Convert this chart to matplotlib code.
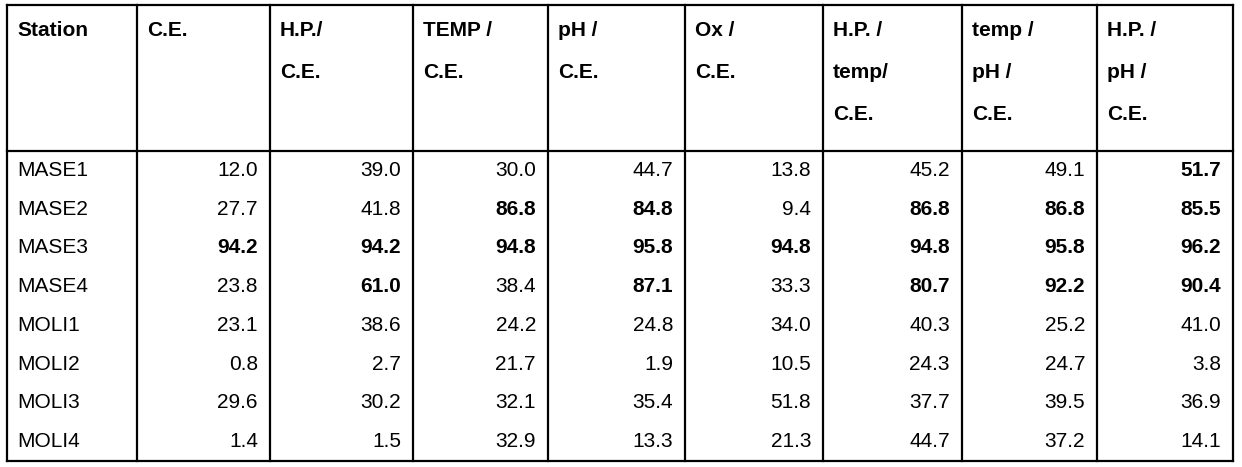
import matplotlib
matplotlib.use("Agg")
import matplotlib.pyplot as plt

headers = ["Station", "C.E.", "H.P./\nC.E.", "TEMP /\nC.E.", "pH /\nC.E.", "Ox /\nC.E.",
           "H.P. /\ntemp/\nC.E.", "temp /\npH /\nC.E.", "H.P. /\npH /\nC.E."]
stations = ["MASE1", "MASE2", "MASE3", "MASE4", "MOLI1", "MOLI2", "MOLI3", "MOLI4"]
ce = [12.0, 27.7, 94.2, 23.8, 23.1, 0.8, 29.6, 1.4]
hp_ce = [39.0, 41.8, 94.2, 61.0, 38.6, 2.7, 30.2, 1.5]
temp_ce = [30.0, 86.8, 94.8, 38.4, 24.2, 21.7, 32.1, 32.9]
ph_ce = [44.7, 84.8, 95.8, 87.1, 24.8, 1.9, 35.4, 13.3]
ox_ce = [13.8, 9.4, 94.8, 33.3, 34.0, 10.5, 51.8, 21.3]
hp_temp_ce = [45.2, 86.8, 94.8, 80.7, 40.3, 24.3, 37.7, 44.7]
temp_ph_ce = [49.1, 86.8, 95.8, 92.2, 25.2, 24.7, 39.5, 37.2]
hp_ph_ce = [51.7, 85.5, 96.2, 90.4, 41.0, 3.8, 36.9, 14.1]
bold = [
    [0, 0, 0, 0, 0, 0, 0, 1],
    [0, 0, 1, 1, 0, 1, 1, 1],
    [1, 1, 1, 1, 1, 1, 1, 1],
    [0, 1, 0, 1, 0, 1, 1, 1],
    [0]*8, [0]*8, [0]*8, [0]*8,
]
columns = [ce, hp_ce, temp_ce, ph_ce, ox_ce, hp_temp_ce, temp_ph_ce, hp_ph_ce]

plt.rcParams['font.family'] = ['Liberation Sans', 'DejaVu Sans']
fig = plt.figure(figsize=(12.42, 4.67), dpi=100)
ax = fig.add_axes([0, 0, 1, 1])
ax.set_xlim(0, 1242); ax.set_ylim(467, 0); ax.axis('off')

xs = [7, 137, 270, 413, 548, 685, 823, 962, 1097, 1233]
top, hbot, bot = 5, 151, 461
rowh = (bot - hbot) / 8
lw = 1.6
for x in xs:
    ax.plot([x, x], [top, bot], color='black', lw=lw)
for y in [top, hbot, bot]:
    ax.plot([xs[0], xs[-1]], [y, y], color='black', lw=lw)

fs = 15
for j, h in enumerate(headers):
    for k, line in enumerate(h.split("\n")):
        ax.text(xs[j] + 10, 30 + k * 42, line, fontsize=fs, fontweight='bold',
                va='center', ha='left')
for i, st in enumerate(stations):
    yc = hbot + rowh * (i + 0.5)
    ax.text(xs[0] + 10, yc, st, fontsize=fs, va='center', ha='left')
    for j, col in enumerate(columns):
        ax.text(xs[j + 2] - 12, yc, f"{col[i]:.1f}", fontsize=fs, va='center', ha='right',
                fontweight='bold' if bold[i][j] else 'normal')
fig.savefig("out.png", dpi=100)
